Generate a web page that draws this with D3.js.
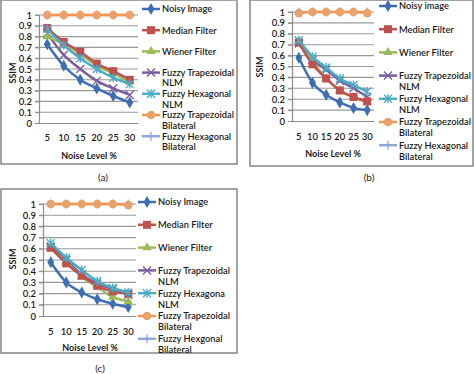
<!DOCTYPE html>
<html>
<head>
<meta charset="utf-8">
<script src="https://cdn.jsdelivr.net/npm/d3@7"></script>
<style>
  body { margin: 0; background: #fff; }
  svg text { font-family: Lato, "Open Sans", sans-serif; fill: #1a1a1a; }
</style>
</head>
<body>
<svg id="chart" width="474" height="374"></svg>
<script>
// Kategorien und Achsen
var noiseLevels = ["5", "10", "15", "20", "25", "30"];
var yTicks = [0, 0.1, 0.2, 0.3, 0.4, 0.5, 0.6, 0.7, 0.8, 0.9, 1];

// Serien, Bild (a)
var aNoisy    = [0.73, 0.53, 0.40, 0.32, 0.25, 0.19];
var aMedian   = [0.88, 0.75, 0.66, 0.55, 0.48, 0.40];
var aWiener   = [0.80, 0.73, 0.64, 0.53, 0.46, 0.38];
var aTrapNlm  = [0.83, 0.63, 0.50, 0.39, 0.32, 0.26];
var aHexNlm   = [0.87, 0.72, 0.60, 0.50, 0.42, 0.36];
var aTrapBil  = [1, 1, 1, 1, 1, 1];
var aHexBil   = [1, 1, 1, 1, 1, 1];
var aNames = ["Noisy Image", "Median Filter", "Wiener Filter", "Fuzzy Trapezoidal|NLM",
              "Fuzzy Hexagonal|NLM", "Fuzzy Trapezoidal|Bilateral", "Fuzzy Hexagonal|Bilateral"];

// Serien, Bild (b)
var bNoisy    = [0.58, 0.35, 0.24, 0.17, 0.12, 0.10];
var bMedian   = [0.72, 0.52, 0.39, 0.28, 0.22, 0.18];
var bWiener   = [0.73, 0.55, 0.39, 0.28, 0.22, 0.17];
var bTrapNlm  = [0.71, 0.56, 0.47, 0.37, 0.30, 0.22];
var bHexNlm   = [0.74, 0.59, 0.49, 0.39, 0.33, 0.27];
var bTrapBil  = [0.99, 1, 1, 1, 1, 0.99];
var bHexBil   = [1, 1, 1, 1, 1, 1];
var bNames = ["Noisy image", "Median Filter", "Wiener Filter", "Fuzzy Trapezoidal|NLM",
              "Fuzzy Hexagonal|NLM", "Fuzzy Trapezoidal|Bilateral", "Fuzzy Hexagonal|Bilateral"];

// Serien, Bild (c)
var cNoisy    = [0.48, 0.30, 0.21, 0.15, 0.11, 0.08];
var cMedian   = [0.61, 0.47, 0.36, 0.27, 0.22, 0.20];
var cWiener   = [0.60, 0.48, 0.35, 0.26, 0.17, 0.13];
var cTrapNlm  = [0.62, 0.50, 0.37, 0.29, 0.24, 0.19];
var cHexNlm   = [0.65, 0.52, 0.41, 0.31, 0.25, 0.21];
var cTrapBil  = [1, 1, 1, 1, 1, 0.99];
var cHexBil   = [1, 1, 1, 1, 1, 1];
var cNames = ["Noisy Image", "Median Filter", "Wiener Filter", "Fuzzy Trapezoidal|NLM",
              "Fuzzy Hexagona|NLM", "Fuzzy Trapezoidal|Bilateral", "Fuzzy Hexgonal|Bilateral"];

// Farben und Marker je Serie
var colors = ["#3d6db3", "#c0504d", "#9bbb59", "#7b5ea0", "#4bacc6", "#f79646", "#8fa8dc"];
var markers = ["diamond", "square", "triangle", "x", "star", "circle", "plus"];

var svg = d3.select("#chart");

function drawMarker(g, type, x, y, col) {
    switch (type) {
        case "diamond":
            g.append("path").attr("d", d3.symbol(d3.symbolDiamond, 42)())
                .attr("transform", "translate(" + x + "," + y + ")").attr("fill", col);
            break;
        case "square":
            g.append("rect").attr("x", x - 4).attr("y", y - 4).attr("width", 8).attr("height", 8).attr("fill", col);
            break;
        case "triangle":
            g.append("path").attr("d", d3.symbol(d3.symbolTriangle, 38)())
                .attr("transform", "translate(" + x + "," + y + ")").attr("fill", col);
            break;
        case "circle":
            g.append("circle").attr("cx", x).attr("cy", y).attr("r", 4.3).attr("fill", "#e8a36c");
            break;
        case "x":
            g.append("path").attr("d", "M" + (x - 4) + "," + (y - 4) + "L" + (x + 4) + "," + (y + 4) +
                "M" + (x - 4) + "," + (y + 4) + "L" + (x + 4) + "," + (y - 4))
                .attr("stroke", col).attr("stroke-width", 1.4).attr("fill", "none");
            break;
        case "star":
            g.append("path").attr("d", "M" + (x - 4) + "," + (y - 4) + "L" + (x + 4) + "," + (y + 4) +
                "M" + (x - 4) + "," + (y + 4) + "L" + (x + 4) + "," + (y - 4) +
                "M" + x + "," + (y - 4.5) + "L" + x + "," + (y + 4.5))
                .attr("stroke", col).attr("stroke-width", 1.4).attr("fill", "none");
            break;
        case "plus":
            g.append("path").attr("d", "M" + (x - 4.5) + "," + y + "L" + (x + 4.5) + "," + y +
                "M" + x + "," + (y - 4.5) + "L" + x + "," + (y + 4.5))
                .attr("stroke", col).attr("stroke-width", 1.3).attr("fill", "none");
            break;
    }
}

function drawPanel(p) {
    var g = svg.append("g");

    // Rahmen
    g.append("rect").attr("x", p.box[0]).attr("y", p.box[1])
        .attr("width", p.box[2] - p.box[0]).attr("height", p.box[3] - p.box[1])
        .attr("fill", "none").attr("stroke", "#8c8c8c").attr("stroke-width", 1.6);

    var x = d3.scaleBand().domain(noiseLevels).range([p.left, p.right]);
    var y = d3.scaleLinear().domain([0, 1]).range([p.y0, p.y1]);

    // Gitterlinien
    g.selectAll(".grid").data(yTicks.slice(1)).enter().append("line")
        .attr("x1", p.left - 4).attr("x2", p.right)
        .attr("y1", function (d) { return y(d); }).attr("y2", function (d) { return y(d); })
        .attr("stroke", "#999").attr("stroke-width", 1.1);

    // Y-Achse
    var yAxis = g.append("g").attr("transform", "translate(" + p.left + ",0)")
        .call(d3.axisLeft(y).tickValues(yTicks).tickSize(4).tickPadding(3)
            .tickFormat(function (d) { return d === 0 || d === 1 ? d : d3.format(".1f")(d); }));
    yAxis.select(".domain").attr("stroke", "#8c8c8c").attr("stroke-width", 1.2);
    yAxis.selectAll(".tick line").attr("stroke", "#8c8c8c");
    yAxis.selectAll("text").attr("font-size", 9.5).attr("font-weight", 600)
        .style("font-family", "Lato, sans-serif").attr("fill", "#1a1a1a");

    // X-Achse
    var xAxis = g.append("g").attr("transform", "translate(0," + p.y0 + ")")
        .call(d3.axisBottom(x).tickSize(0).tickPadding(p.tickPad));
    xAxis.select(".domain").attr("stroke", "#8c8c8c").attr("stroke-width", 1.2);
    xAxis.selectAll("text").attr("font-size", 9.5).attr("font-weight", 600)
        .style("font-family", "Lato, sans-serif").attr("fill", "#1a1a1a");

    // Achsentitel
    g.append("text").attr("x", p.xTitle[0]).attr("y", p.xTitle[1])
        .attr("text-anchor", "middle").attr("font-size", 9).attr("font-weight", "bold").text("Noise Level %");
    g.append("text").attr("transform", "translate(" + p.yTitle[0] + "," + p.yTitle[1] + ") rotate(-90)")
        .attr("text-anchor", "middle").attr("font-size", 9).attr("font-weight", "bold").text("SSIM");

    // Linien
    var line = d3.line()
        .x(function (d, i) { return x(noiseLevels[i]) + x.bandwidth() / 2; })
        .y(function (d) { return y(d); })
        .curve(d3.curveMonotoneX);

    // Reihenfolge: hell zuerst, damit die Kreise oben liegen
    var order = [6, 0, 3, 2, 1, 4, 5];
    order.forEach(function (k) {
        var vals = p.series[k];
        g.append("path").datum(vals).attr("d", line)
            .attr("fill", "none").attr("stroke", colors[k]).attr("stroke-width", 2.5);
        vals.forEach(function (v, i) {
            drawMarker(g, markers[k], x(noiseLevels[i]) + x.bandwidth() / 2, y(v), colors[k]);
        });
    });

    // Legende
    p.names.forEach(function (name, k) {
        var ly = p.legY + k * p.legStep;
        g.append("line").attr("x1", p.legX).attr("x2", p.legX + 18)
            .attr("y1", ly).attr("y2", ly).attr("stroke", colors[k]).attr("stroke-width", 2.5);
        drawMarker(g, markers[k], p.legX + 9, ly, colors[k]);
        var parts = name.split("|");
        var t = g.append("text").attr("x", p.legX + 20).attr("y", ly + 3.3)
            .attr("font-size", 9.3).attr("font-weight", 600);
        parts.forEach(function (s, j) {
            t.append("tspan").attr("x", p.legX + 20).attr("dy", j === 0 ? 0 : p.lineH).text(s);
        });
    });

    // Bildbeschriftung
    g.append("text").attr("x", p.label[0]).attr("y", p.label[1])
        .attr("text-anchor", "middle").attr("font-size", 10).text(p.labelText);
}

drawPanel({
    box: [1, 0, 237, 164], left: 39, right: 138, y1: 15, y0: 123, tickPad: 11,
    xTitle: [89, 159], yTitle: [16, 73], legX: 142, legY: 9, legStep: 21.2, lineH: 10.5,
    label: [103, 181], labelText: "(a)",
    names: aNames, series: [aNoisy, aMedian, aWiener, aTrapNlm, aHexNlm, aTrapBil, aHexBil]
});

drawPanel({
    box: [250, 0, 473, 166], left: 292, right: 374, y1: 12, y0: 121, tickPad: 12,
    xTitle: [333, 157], yTitle: [263, 67], legX: 379, legY: 6, legStep: 23.2, lineH: 11,
    label: [369, 181], labelText: "(b)",
    names: bNames, series: [bNoisy, bMedian, bWiener, bTrapNlm, bHexNlm, bTrapBil, bHexBil]
});

drawPanel({
    box: [1, 189, 237, 353], left: 43, right: 136, y1: 204, y0: 316, tickPad: 12,
    xTitle: [90, 351], yTitle: [16, 259], legX: 138, legY: 202, legStep: 22.8, lineH: 11,
    label: [100, 372], labelText: "(c)",
    names: cNames, series: [cNoisy, cMedian, cWiener, cTrapNlm, cHexNlm, cTrapBil, cHexBil]
});
</script>
</body>
</html>
